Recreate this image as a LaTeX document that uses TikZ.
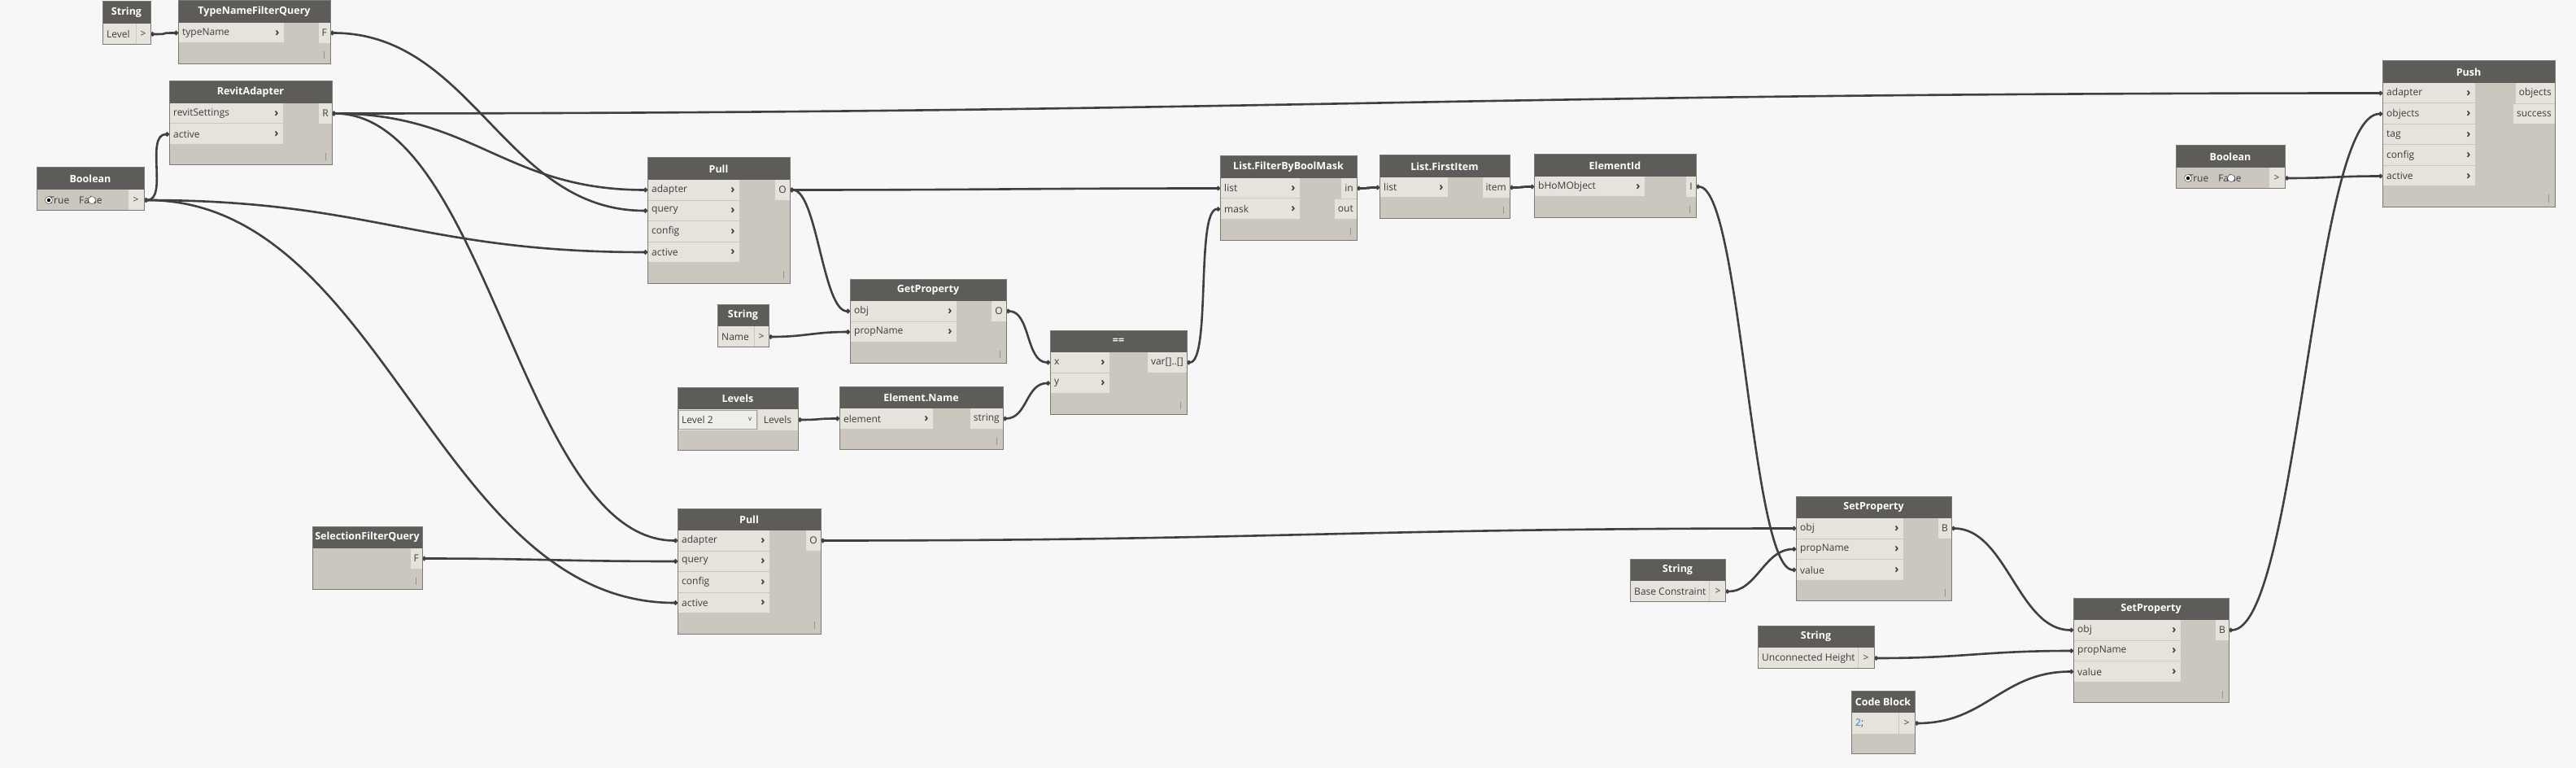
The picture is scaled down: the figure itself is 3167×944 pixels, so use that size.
\documentclass[tikz,border=0pt]{standalone}
\usepackage{fontspec}
\setmainfont{Open Sans}
\usetikzlibrary{calc,arrows.meta}
\definecolor{bgc}{HTML}{F7F7F7}
\definecolor{hdr}{HTML}{5E5C59}
\definecolor{bodyc}{HTML}{CBC7BF}
\definecolor{rowc}{HTML}{E6E3DD}
\definecolor{edgec}{HTML}{7C7975}
\definecolor{txtc}{HTML}{3C3C3C}
\definecolor{wirec}{HTML}{404040}
\pgfdeclarelayer{back}
\pgfsetlayers{back,main}
\tikzset{
 ttl/.style={text=white,font=\fontsize{12.5}{14}\selectfont\bfseries,inner sep=0pt},
 port/.style={text=txtc,font=\fontsize{12}{14}\selectfont,inner sep=0pt},
 outlbl/.style={text=txtc,font=\fontsize{12}{14}\selectfont,fill=rowc,anchor=east,inner xsep=4pt,inner ysep=0pt,minimum height=24.5pt},
 chev/.style={text=txtc,font=\fontsize{14}{14}\selectfont\bfseries,inner sep=0pt},
 wire/.style={draw=wirec,line width=2.6pt,{Circle[length=5pt]}-{Circle[length=5pt]}},
 frame/.style={draw=edgec,line width=1pt}
}
% name, x, y, w, n, title, inputs, inW, outputs
\newcommand\dnode[9]{%
 \pgfmathsetmacro\hh{27+25.5*#5+25}%
 \fill[bodyc] (#2,-#3) rectangle ++(#4,-\hh);
 \fill[hdr] (#2,-#3) rectangle ++(#4,-27);
 \node[ttl] at (#2+#4/2,-#3-13.5) {#6};
 \foreach \p [count=\i] in {#7} {\ifx\p\empty\else
   \fill[rowc] (#2,-#3-27-25.5*\i+25.5) rectangle ++(#8,-24.5);
   \node[port,anchor=west] at (#2+5,-#3-27-25.5*\i+13) {\p};
   \node[chev] at (#2+#8-8,-#3-27-25.5*\i+13) {›};
   \coordinate (#1-in\i) at (#2,-#3-27-25.5*\i+13);
 \fi}
 \foreach \p [count=\i] in {#9} {
   \node[outlbl] at (#2+#4,-#3-27-25.5*\i+13) {\p};
   \coordinate (#1-out\i) at (#2+#4,-#3-27-25.5*\i+13);
 }
 \draw[edgec!80,line width=0.8pt] (#2+#4-8,-#3-\hh+6) -- ++(0,9);
 \draw[frame] (#2,-#3) rectangle ++(#4,-\hh);
}
% name, x, y, w, title, content, outW, footer(0/1), rowcolor
\newcommand\wnode[9]{%
 \pgfmathsetmacro\hh{27+25.5+25*#8}%
 \fill[bodyc] (#2,-#3) rectangle ++(#4,-\hh);
 \fill[hdr] (#2,-#3) rectangle ++(#4,-27);
 \node[ttl] at (#2+#4/2,-#3-13.5) {#5};
 \fill[#9] (#2,-#3-27) rectangle ++(#4-#7,-25.5);
 \fill[rowc] (#2+#4-#7+1,-#3-27) rectangle ++(#7-1,-25.5);
 \node[port,anchor=west] at (#2+5,-#3-40) {#6};
 \coordinate (#1-out) at (#2+#4,-#3-40);
 \draw[frame] (#2,-#3) rectangle ++(#4,-\hh);
}
\newcommand\outcell[3]{\node[port] at (#1,-#2) {#3};}
\newcommand\wire[3][0.45]{\draw[wire] let \p1=(#2),\p2=(#3),\n1={max(abs(\x2-\x1)*#1,30pt)} in (\p1) .. controls (\x1+\n1,\y1) and (\x2-\n1,\y2) .. (\p2);}
\begin{document}
\begin{tikzpicture}[x=1pt,y=1pt]
\useasboundingbox (0,0) rectangle (3167,-944);
\begin{pgfonlayer}{back}
\fill[bgc] (0,0) rectangle (3167,-944);
\end{pgfonlayer}

% nodes
\wnode{str1}{126}{2}{59}{String}{Level}{18}{0}{rowc}
\outcell{176}{42}{>}
\dnode{tnfq}{219}{1}{187}{1}{TypeNameFilterQuery}{typeName}{130}{F}
\dnode{ra}{208}{100}{200}{2}{RevitAdapter}{revitSettings,active}{140}{R}
\wnode{bool1}{45}{206}{132}{Boolean}{\hspace{10pt}True\hspace{12pt}False}{20}{0}{bodyc}
\outcell{167}{246}{>}
\draw[txtc,fill=white] (60,-246) circle (4.5); \fill[black] (60,-246) circle (2.2);
\draw[txtc,fill=white] (113,-246) circle (4.5);
\dnode{pull1}{796}{194}{175}{4}{Pull}{adapter,query,config,active}{113}{O}
\dnode{getp}{1045}{343}{192}{2}{GetProperty}{obj,propName}{131}{O}
\wnode{str2}{882}{374}{63}{String}{Name}{18}{0}{rowc}
\outcell{936}{414}{>}
\dnode{eq}{1291}{406}{168}{2}{==}{x,y}{73}{var[]..[]}
\wnode{lev}{833}{476}{148}{Levels}{}{50}{1}{rowc}
\draw[edgec!70,fill=rowc!60!white] (834,-504) rectangle (930,-527);
\node[port,anchor=west] at (838,-516) {Level 2};
\node[port,font=\fontsize{8}{8}\selectfont] at (922,-515) {v};
\outcell{956}{516}{Levels}
\dnode{eln}{1032}{475}{201}{1}{Element.Name}{element}{115}{string}
\dnode{fbm}{1500}{192}{168}{2}{List.FilterByBoolMask}{list,mask}{98}{in,out}
\dnode{fi}{1696}{191}{160}{1}{List.FirstItem}{list}{84}{item}
\dnode{eid}{1886}{190}{199}{1}{ElementId}{bHoMObject}{136}{I}
\dnode{sfq}{384}{647}{135}{1}{SelectionFilterQuery}{}{0}{F}
\dnode{pull2}{833}{625}{176}{4}{Pull}{adapter,query,config,active}{113}{O}
\dnode{sp1}{2208}{610}{191}{3}{SetProperty}{obj,propName,value}{132}{B}
\wnode{strbc}{2004}{687}{117}{String}{Base Constraint}{20}{0}{rowc}
\outcell{2112}{727}{>}
\dnode{sp2}{2549}{735}{191}{3}{SetProperty}{obj,propName,value}{132}{B}
\wnode{struh}{2161}{769}{143}{String}{Unconnected Height}{20}{0}{rowc}
\outcell{2294}{809}{>}
\wnode{cb}{2276}{849}{78}{Code Block}{{\color[HTML]{2F7FD8}2};}{20}{1}{rowc}
\outcell{2344}{889}{>}
\dnode{push}{2929}{75}{212}{5}{Push}{adapter,objects,tag,config,active}{114}{objects,success}
\wnode{bool2}{2675}{179}{134}{Boolean}{\hspace{10pt}True\hspace{12pt}False}{20}{0}{bodyc}
\outcell{2799}{219}{>}
\draw[txtc,fill=white] (2690,-219) circle (4.5); \fill[black] (2690,-219) circle (2.2);
\draw[txtc,fill=white] (2743,-219) circle (4.5);

% wires
\begin{pgfonlayer}{back}
\wire{str1-out}{tnfq-in1}
\wire{tnfq-out1}{pull1-in2}
\wire{ra-out1}{pull1-in1}
\wire{ra-out1}{push-in1}
\wire{ra-out1}{pull2-in1}
\wire{bool1-out}{ra-in2}
\wire{bool1-out}{pull1-in4}
\wire{bool1-out}{pull2-in4}
\wire{pull1-out1}{fbm-in1}
\wire{pull1-out1}{getp-in1}
\wire{str2-out}{getp-in2}
\wire{getp-out1}{eq-in1}
\wire{eln-out1}{eq-in2}
\wire{lev-out}{eln-in1}
\wire{eq-out1}{fbm-in2}
\wire{fbm-out1}{fi-in1}
\wire{fi-out1}{eid-in1}
\wire{eid-out1}{sp1-in3}
\wire{sfq-out1}{pull2-in2}
\wire{pull2-out1}{sp1-in1}
\wire{strbc-out}{sp1-in2}
\wire{sp1-out1}{sp2-in1}
\wire{struh-out}{sp2-in2}
\wire{cb-out}{sp2-in3}
\wire{sp2-out1}{push-in2}
\wire{bool2-out}{push-in5}
\end{pgfonlayer}
\end{tikzpicture}
\end{document}
